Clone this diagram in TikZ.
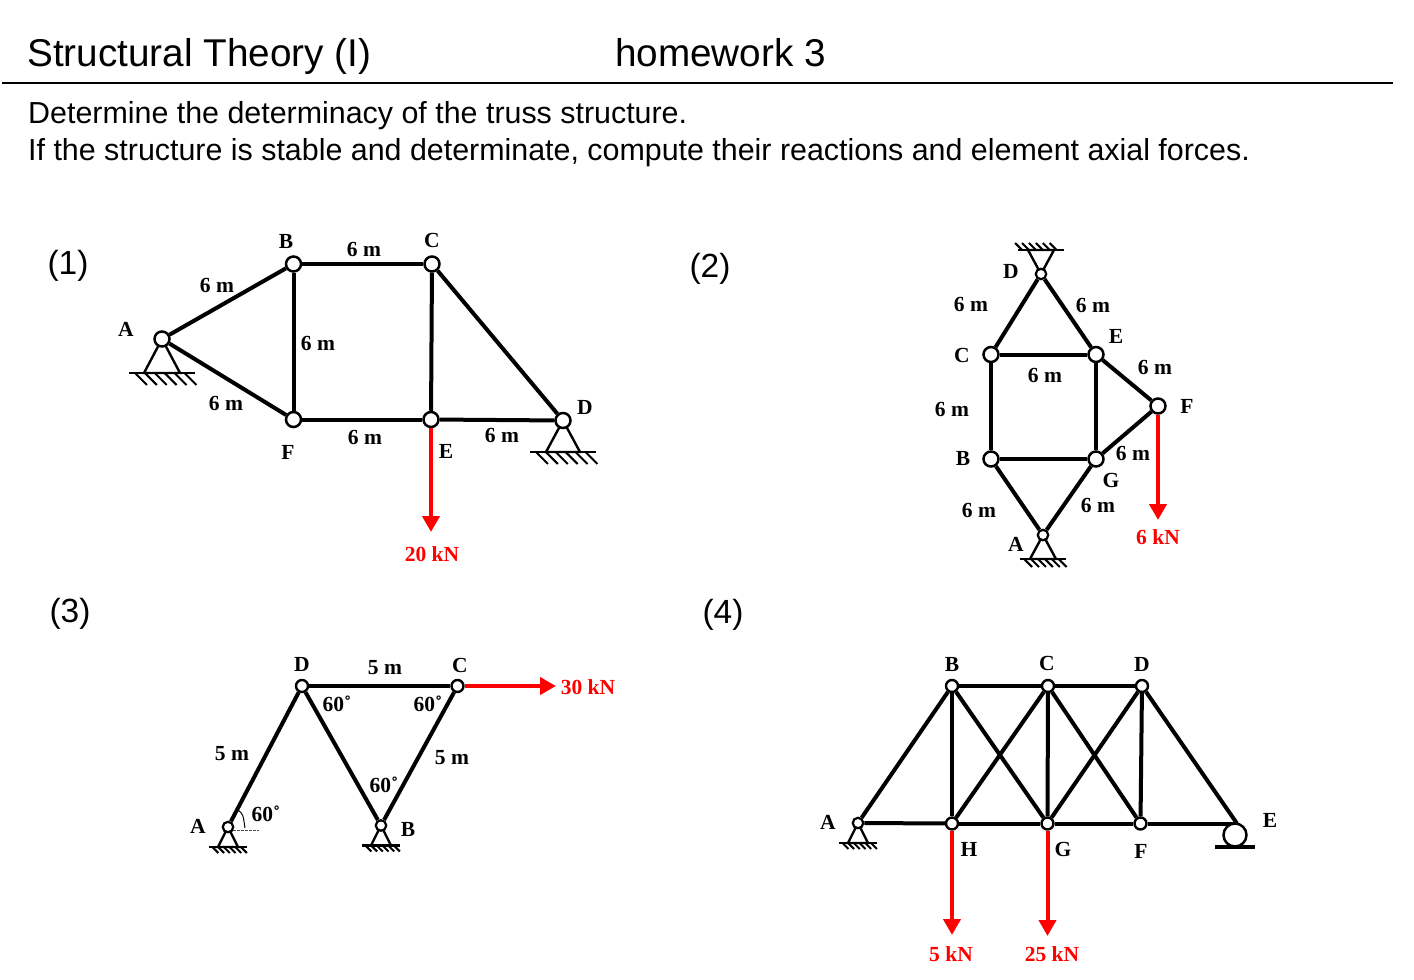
\documentclass[tikz,border=0pt]{standalone}
\usepackage{fontspec}
\setmainfont{Liberation Sans}
\newfontfamily\labelfont{Liberation Serif}
\usetikzlibrary{arrows.meta,backgrounds}
\tikzset{
    joint/.style={circle, draw, fill=white, inner sep=0pt, minimum size=15pt, line width=2.5pt},
    midjoint/.style={circle, draw, fill=white, inner sep=0pt, minimum size=12pt, line width=2.4pt},
    smalljoint/.style={circle, draw, fill=white, inner sep=0pt, minimum size=10.5pt, line width=2.2pt},
    member/.style={line width=4pt},
    force/.style={line width=4pt, red, -{Triangle[width=17pt,length=16pt]}},
    lbl/.style={inner sep=0pt, yshift=-0.7pt, font=\labelfont\bfseries\fontsize{21.5}{24}\selectfont},
    forcelbl/.style={lbl, red},
    titletxt/.style={inner sep=0pt, anchor=base west, font=\fontsize{38.7}{44}\selectfont},
    bodytxt/.style={inner sep=0pt, anchor=base west, font=\fontsize{30.4}{36}\selectfont},
    numtxt/.style={inner sep=0pt, font=\fontsize{33.5}{38}\selectfont},
    pinline/.style={line width=2.4pt, line join=miter},
    groundline/.style={line width=2.8pt},
    hatchline/.style={line width=2pt},
    refline/.style={line width=1pt, dashed, dash pattern=on 2.5pt off 1.5pt, black!70},
    anglearc/.style={line width=1pt}
}
\newcommand{\pinsupport}[5]{%
    \begin{scope}[on background layer, shift={(#1)}]
        \draw[pinline] (0,0) -- (-#3,#2) -- (#3,#2) -- cycle;
        \draw[groundline] (-#4,#2) -- (#4,#2);
        \foreach \i in {0,...,5}
            \draw[hatchline] ({(-0.82+0.3*\i)*#4},#2) -- ++(#5,#5);
    \end{scope}}
\begin{document}
\begin{tikzpicture}[x=1pt, y=-1pt]
    \useasboundingbox (0,0) rectangle (1414,980);

    \node[titletxt] (title) at (27,66) {Structural Theory (I)};
    \node[titletxt] (hw) at (615,66) {homework 3};
    \coordinate (ruleL) at (2,83);
    \coordinate (ruleR) at (1393,83);
    \draw[line width=1.4pt] (ruleL) -- (ruleR);
    \node[bodytxt] (line1) at (28,123) {Determine the determinacy of the truss structure.};
    \node[bodytxt] (line2) at (28,160) {If the structure is stable and determinate, compute their reactions and element axial forces.};
    \node[numtxt] (num1) at (68,266) {(1)};
    \node[numtxt] (num2) at (710,269) {(2)};
    \node[numtxt] (num3) at (70,614) {(3)};
    \node[numtxt] (num4) at (723,615) {(4)};

    \node[joint] (A1) at (162,339) {};
    \node[joint] (B1) at (293.5,264) {};
    \node[joint] (C1) at (432,264) {};
    \node[joint] (D1) at (563,420.5) {};
    \node[joint] (E1) at (431,419.5) {};
    \node[joint] (F1) at (293.5,419.5) {};
    \draw[member] (A1) -- (B1);
    \draw[member] (B1) -- (C1);
    \draw[member] (C1) -- (D1);
    \draw[member] (D1) -- (E1);
    \draw[member] (E1) -- (F1);
    \draw[member] (F1) -- (A1);
    \draw[member] (B1) -- (F1);
    \draw[member] (C1) -- (E1);
    \pinsupport{A1}{34}{18}{33}{12}
    \pinsupport{D1}{31.5}{17}{33}{12}
    \coordinate (P1) at (431,532);
    \draw[force] (E1) -- (P1);
    \node[lbl] (labA1) at (126,329) {A};
    \node[lbl] (labB1) at (286,241) {B};
    \node[lbl] (labC1) at (432,240) {C};
    \node[lbl] (labD1) at (585,407) {D};
    \node[lbl] (labE1) at (446,451) {E};
    \node[lbl] (labF1) at (288,452) {F};
    \node[lbl] (labAB1) at (217,285) {6 m};
    \node[lbl] (labBC1) at (364,249) {6 m};
    \node[lbl] (labBF1) at (318,343) {6 m};
    \node[lbl] (labAF1) at (226,403) {6 m};
    \node[lbl] (labFE1) at (365,437) {6 m};
    \node[lbl] (labED1) at (502,435) {6 m};
    \node[forcelbl] (labP1) at (432,553) {20 kN};

    \node[smalljoint] (D2) at (1041,274) {};
    \node[joint] (C2) at (991,354.5) {};
    \node[joint] (E2) at (1096,354.5) {};
    \node[joint] (F2) at (1158,406) {};
    \node[joint] (G2) at (1096,459) {};
    \node[joint] (B2) at (991,459) {};
    \node[smalljoint] (A2) at (1043,535) {};
    \draw[member] (D2) -- (C2);
    \draw[member] (D2) -- (E2);
    \draw[member] (C2) -- (E2);
    \draw[member] (C2) -- (B2);
    \draw[member] (E2) -- (G2);
    \draw[member] (B2) -- (G2);
    \draw[member] (B2) -- (A2);
    \draw[member] (G2) -- (A2);
    \draw[member] (E2) -- (F2);
    \draw[member] (F2) -- (G2);
    \pinsupport{D2}{-24}{13}{23}{-7}
    \pinsupport{A2}{24}{13}{23}{8}
    \coordinate (P2) at (1158,520);
    \draw[force] (F2) -- (P2);
    \node[lbl] (labA2) at (1016,544) {A};
    \node[lbl] (labB2) at (963,458) {B};
    \node[lbl] (labC2) at (962,355) {C};
    \node[lbl] (labD2) at (1011,271) {D};
    \node[lbl] (labE2) at (1116,336) {E};
    \node[lbl] (labF2) at (1187,406) {F};
    \node[lbl] (labG2) at (1111,480) {G};
    \node[lbl] (labCD2) at (971,304) {6 m};
    \node[lbl] (labDE2) at (1093,305) {6 m};
    \node[lbl] (labCE2) at (1045,375) {6 m};
    \node[lbl] (labEF2) at (1155,367) {6 m};
    \node[lbl] (labBC2) at (952,409) {6 m};
    \node[lbl] (labFG2) at (1133,453) {6 m};
    \node[lbl] (labGA2) at (1098,505) {6 m};
    \node[lbl] (labAB2) at (979,510) {6 m};
    \node[forcelbl] (labP2) at (1158,536) {6 kN};

    \node[smalljoint] (A3) at (228,827) {};
    \node[midjoint] (D3) at (302,686) {};
    \node[midjoint] (C3) at (457.5,686) {};
    \node[smalljoint] (B3) at (381,825.5) {};
    \draw[member] (A3) -- (D3);
    \draw[member] (D3) -- (C3);
    \draw[member] (D3) -- (B3);
    \draw[member] (B3) -- (C3);
    \pinsupport{A3}{20}{10}{19}{6}
    \pinsupport{B3}{20}{10}{19}{6}
    \coordinate (P3) at (556,686);
    \draw[force] (C3) -- (P3);
    \coordinate (refL) at (233,830);
    \coordinate (refR) at (259,830);
    \coordinate (arcS) at (238,810);
    \coordinate (arcE) at (245,828);
    \draw[refline] (refL) -- (refR);
    \draw[anglearc] (arcS) .. controls (243,814) .. (arcE);
    \node[lbl] (labA3) at (198,826) {A};
    \node[lbl] (labB3) at (408,829) {B};
    \node[lbl] (labC3) at (460,665) {C};
    \node[lbl] (labD3) at (302,664) {D};
    \node[lbl] (labDC3) at (385,667) {5 m};
    \node[lbl] (labAD3) at (232,753) {5 m};
    \node[lbl] (labBC3) at (452,757) {5 m};
    \node[lbl] (angD3) at (337,703) {60˚};
    \node[lbl] (angC3) at (428,703) {60˚};
    \node[lbl] (angB3) at (384,784) {60˚};
    \node[lbl] (angA3) at (266,813) {60˚};
    \node[forcelbl] (labP3) at (588,686) {30 kN};

    \node[smalljoint] (A4) at (858,823) {};
    \node[midjoint] (B4) at (952,686) {};
    \node[midjoint] (C4) at (1048,686) {};
    \node[midjoint] (D4) at (1142,686) {};
    \coordinate (E4) at (1237,823.5);
    \node[midjoint] (F4) at (1140.5,823.5) {};
    \node[midjoint] (G4) at (1047.5,823.5) {};
    \node[midjoint] (H4) at (952,823.5) {};
    \draw[member] (A4) -- (H4);
    \draw[member] (H4) -- (G4);
    \draw[member] (G4) -- (F4);
    \draw[member] (F4) -- (E4);
    \draw[member] (A4) -- (B4);
    \draw[member] (B4) -- (C4);
    \draw[member] (C4) -- (D4);
    \draw[member] (D4) -- (E4);
    \draw[member] (B4) -- (H4);
    \draw[member] (C4) -- (G4);
    \draw[member] (D4) -- (F4);
    \draw[member] (B4) -- (G4);
    \draw[member] (C4) -- (H4);
    \draw[member] (C4) -- (F4);
    \draw[member] (D4) -- (G4);
    \pinsupport{A4}{20}{10}{19}{6}
    \node[circle, draw, fill=white, inner sep=0pt, minimum size=23pt, line width=2.5pt] (R4) at (1235,835) {};
    \coordinate (baseL) at (1215,847);
    \coordinate (baseR) at (1255,847);
    \draw[member] (baseL) -- (baseR);
    \coordinate (P4) at (952,935);
    \coordinate (Q4) at (1047.5,936);
    \draw[force] (H4) -- (P4);
    \draw[force] (G4) -- (Q4);
    \node[lbl] (labA4) at (828,822) {A};
    \node[lbl] (labB4) at (952,664) {B};
    \node[lbl] (labC4) at (1047,663) {C};
    \node[lbl] (labD4) at (1142,664) {D};
    \node[lbl] (labE4) at (1270,820) {E};
    \node[lbl] (labF4) at (1141,851) {F};
    \node[lbl] (labG4) at (1063,849) {G};
    \node[lbl] (labH4) at (969,849) {H};
    \node[forcelbl] (labP4) at (951,953) {5 kN};
    \node[forcelbl] (labQ4) at (1052,953) {25 kN};
\end{tikzpicture}
\end{document}
